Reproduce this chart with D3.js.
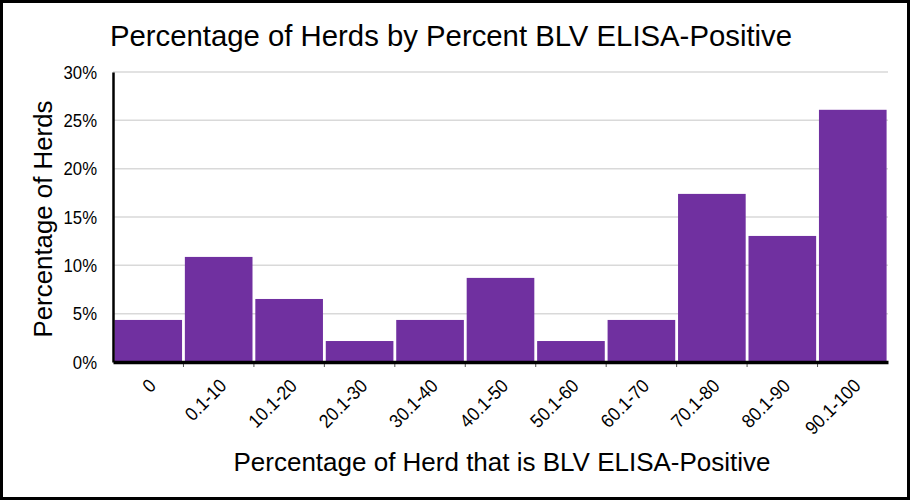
<!DOCTYPE html>
<html>
<head>
<meta charset="utf-8">
<script src="https://cdn.jsdelivr.net/npm/d3@7"></script>
<style>
  body { margin: 0; background: #fff; }
  svg { display: block; font-family: "Liberation Sans", Arial, sans-serif; }
</style>
</head>
<body>
<div id="chart"></div>
<script>
// herd share per BLV ELISA-positive bin (percent)
const categories = ["0", "0.1-10", "10.1-20", "20.1-30", "30.1-40", "40.1-50",
  "50.1-60", "60.1-70", "70.1-80", "80.1-90", "90.1-100"];
const herdPct = [4.35, 10.87, 6.52, 2.17, 4.35, 8.70, 2.17, 4.35, 17.39, 13.04, 26.09];
const yTicks = [0, 5, 10, 15, 20, 25, 30];

const W = 910, H = 500;
const margin = {top: 72, right: 22, bottom: 138, left: 113};

// the source image has narrow-looking glyphs, so squeeze text a bit
function squeeze(sel, k) {
  sel.each(function() {
    const len = this.getComputedTextLength();
    d3.select(this).attr("textLength", len * k).attr("lengthAdjust", "spacingAndGlyphs");
  });
}

const svg = d3.select("#chart").append("svg")
  .attr("width", W).attr("height", H);

svg.append("rect")
  .attr("x", 1.5).attr("y", 1.5)
  .attr("width", W - 3).attr("height", H - 3)
  .attr("fill", "#fff").attr("stroke", "#000").attr("stroke-width", 3);

const x = d3.scaleBand()
  .domain(categories)
  .range([margin.left, W - margin.right])
  .paddingInner(0.04).paddingOuter(0.02);

const y = d3.scaleLinear()
  .domain([0, 30])
  .range([H - margin.bottom, margin.top]);

// gridlines
svg.append("g")
  .selectAll("line")
  .data(yTicks.slice(1))
  .join("line")
    .attr("x1", margin.left).attr("x2", W - margin.right)
    .attr("y1", d => y(d)).attr("y2", d => y(d))
    .attr("stroke", "#d9d9d9").attr("stroke-width", 1.5);

// bars
svg.append("g")
  .selectAll("rect")
  .data(herdPct)
  .join("rect")
    .attr("x", (d, i) => x(categories[i]))
    .attr("y", d => y(d))
    .attr("width", x.bandwidth())
    .attr("height", d => y(0) - y(d))
    .attr("fill", "#7030a0");

// small tick marks between categories
const step = x.step();
svg.append("g")
  .selectAll("line")
  .data(d3.range(1, categories.length))
  .join("line")
    .attr("x1", i => x(categories[i]) - step * x.paddingInner() / 2)
    .attr("x2", i => x(categories[i]) - step * x.paddingInner() / 2)
    .attr("y1", y(0)).attr("y2", y(0) + 5)
    .attr("stroke", "#555").attr("stroke-width", 1);

// y axis
const yAxis = svg.append("g")
  .attr("transform", `translate(${margin.left},0)`)
  .call(d3.axisLeft(y).tickValues(yTicks).tickFormat(d => d + "%").tickSize(0).tickPadding(16));
yAxis.attr("font-size", null).attr("font-family", null);
yAxis.select(".domain").attr("stroke", "#000").attr("stroke-width", 2.5);
yAxis.selectAll("text").style("font-size", "19px").attr("fill", "#000").call(squeeze, 0.88);

// x axis
const xAxis = svg.append("g")
  .attr("transform", `translate(0,${y(0)})`)
  .call(d3.axisBottom(x).tickSize(0).tickPadding(0));
xAxis.attr("font-size", null).attr("font-family", null);
xAxis.select(".domain").attr("stroke", "#000").attr("stroke-width", 3.5);
xAxis.selectAll("text")
  .style("font-size", "19px").attr("fill", "#000")
  .attr("text-anchor", "end")
  .attr("dy", 0)
  .attr("transform", "translate(9,25) rotate(-45)")
  .call(squeeze, 0.92);

// titles
svg.append("text")
  .attr("x", 451).attr("y", 46)
  .attr("text-anchor", "middle")
  .attr("font-size", 29)
  .attr("textLength", 682)
  .attr("lengthAdjust", "spacingAndGlyphs")
  .text("Percentage of Herds by Percent BLV ELISA-Positive");

svg.append("text")
  .attr("transform", `translate(52,${(y(0) + y(30)) / 2 + 2}) rotate(-90)`)
  .attr("text-anchor", "middle")
  .attr("font-size", 25)
  .attr("textLength", 237)
  .attr("lengthAdjust", "spacingAndGlyphs")
  .text("Percentage of Herds");

svg.append("text")
  .attr("x", 502).attr("y", 471)
  .attr("text-anchor", "middle")
  .attr("font-size", 25)
  .attr("textLength", 537)
  .attr("lengthAdjust", "spacingAndGlyphs")
  .text("Percentage of Herd that is BLV ELISA-Positive");
</script>
</body>
</html>
